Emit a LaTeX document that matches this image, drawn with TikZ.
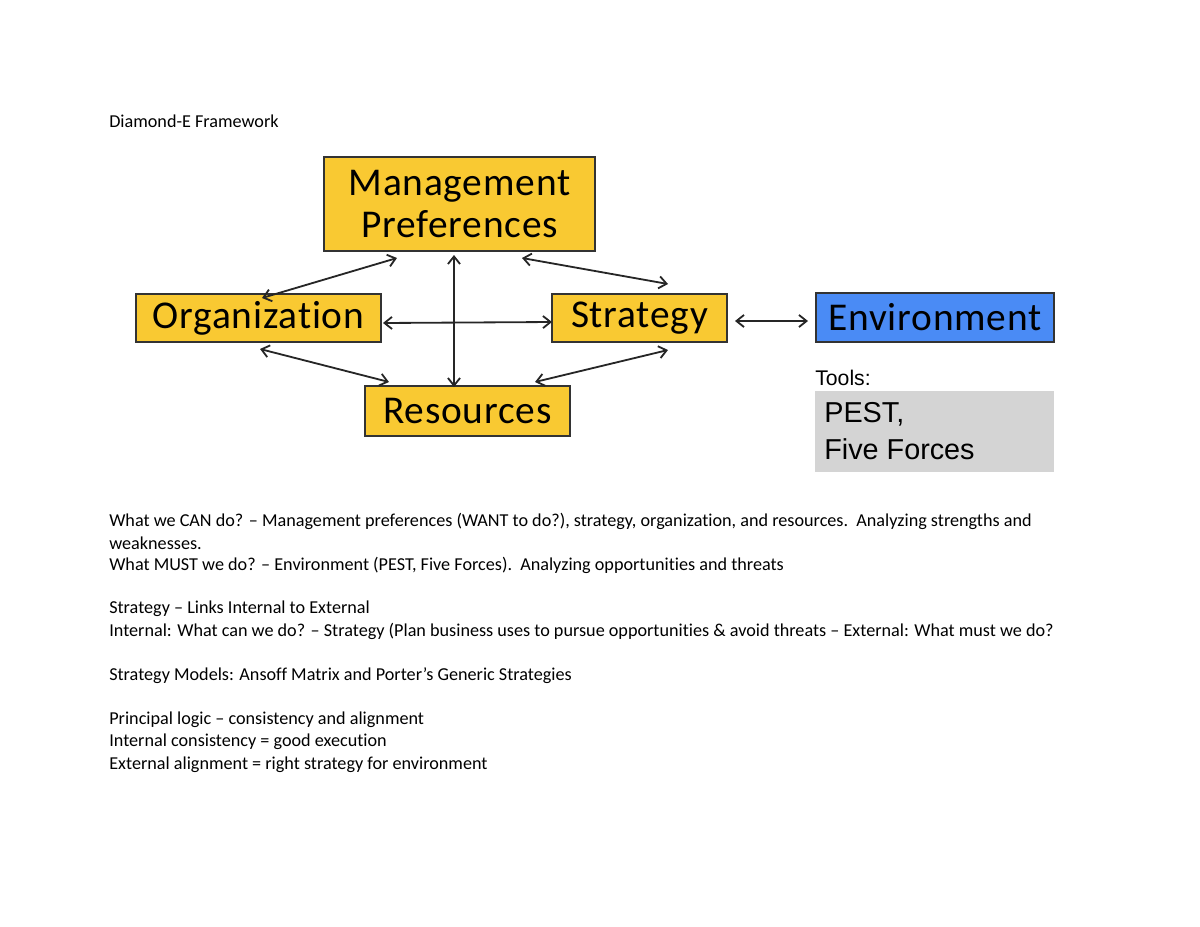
\documentclass[tikz,border=0pt]{standalone}
\usepackage{fontspec}
\setmainfont[Ligatures=NoCommon]{Carlito}
\newfontfamily\arialf{Liberation Sans}
\usetikzlibrary{arrows.meta}
\definecolor{boxy}{HTML}{F9C932}
\definecolor{boxb}{HTML}{4A8BF5}
\definecolor{toolg}{HTML}{D4D4D4}
\begin{document}
\begin{tikzpicture}[x=0.66pt,y=-0.66pt,
  ybox/.style={draw=black!80,line width=0.8pt,fill=boxy,font=\fontsize{26}{27}\selectfont\addfontfeature{LetterSpace=2}\selectfont,inner sep=0pt,align=center},
  arr/.style={{Straight Barb[length=5pt,width=8pt]}-{Straight Barb[length=5pt,width=8pt]},line width=1.2pt,black!85},
  body/.style={anchor=west,font=\fontsize{12}{14}\selectfont,inner sep=0pt}]
\useasboundingbox (0,0) rectangle (1200,927);
\node[ybox,minimum width=271*0.66pt,minimum height=94*0.66pt] (mp) at (459.5,204) {Management\\[1pt]Preferences};
\node[ybox,minimum width=245*0.66pt,minimum height=48*0.66pt] (org) at (258.5,318) {Organization};
\node[ybox,minimum width=175*0.66pt,minimum height=48*0.66pt] (str) at (639.5,318) {Strategy};
\node[ybox,fill=boxb,minimum width=238*0.66pt,minimum height=49*0.66pt] (env) at (935,317.5) {Environment};
\node[ybox,minimum width=205*0.66pt,minimum height=50*0.66pt] (res) at (467.5,411) {Resources};
\node[anchor=west,inner sep=0pt,font=\arialf\fontsize{14}{16}\selectfont] (tl) at (815,378) {Tools:};
\node[fill=toolg,minimum width=239*0.66pt,minimum height=81*0.66pt,inner sep=0pt] (tb) at (934.5,431.5) {};
\node[anchor=west,inner sep=0pt,align=left,font=\arialf\fontsize{19}{24}\selectfont] (tt) at (824,431) {PEST,\\Five Forces};
\coordinate (a1) at (262,298); \coordinate (a2) at (397,258);
\coordinate (b1) at (522,258); \coordinate (b2) at (668,284);
\coordinate (c1) at (454,255); \coordinate (c2) at (454,387);
\coordinate (d1) at (383,323); \coordinate (d2) at (552,322);
\coordinate (e1) at (260,349); \coordinate (e2) at (389,382);
\coordinate (f1) at (535,382); \coordinate (f2) at (668,350);
\coordinate (g1) at (735,321); \coordinate (g2) at (808,321);
\draw[arr] (a1) -- (a2);
\draw[arr] (b1) -- (b2);
\draw[arr] (c1) -- (c2);
\draw[arr] (d1) -- (d2);
\draw[arr] (e1) -- (e2);
\draw[arr] (f1) -- (f2);
\draw[arr] (g1) -- (g2);
\node[body] (t0) at (109,121) {Diamond-E Framework};
\node[body] (t1) at (109,521) {What we CAN do? – Management preferences (WANT to do?), strategy, organization, and resources.\ \ Analyzing strengths and};
\node[body] (t2) at (109,543) {weaknesses.};
\node[body] (t3) at (109,565) {What MUST we do? – Environment (PEST, Five Forces).\ \ Analyzing opportunities and threats};
\node[body] (t4) at (109,609) {Strategy – Links Internal to External};
\node[body] (t5) at (109,631) {Internal: What can we do? – Strategy (Plan business uses to pursue opportunities \& avoid threats – External: What must we do?};
\node[body] (t6) at (109,676) {Strategy Models: Ansoff Matrix and Porter’s Generic Strategies};
\node[body] (t7) at (109,720) {Principal logic – consistency and alignment};
\node[body] (t8) at (109,742) {Internal consistency = good execution};
\node[body] (t9) at (109,765) {External alignment = right strategy for environment};
\end{tikzpicture}
\end{document}
